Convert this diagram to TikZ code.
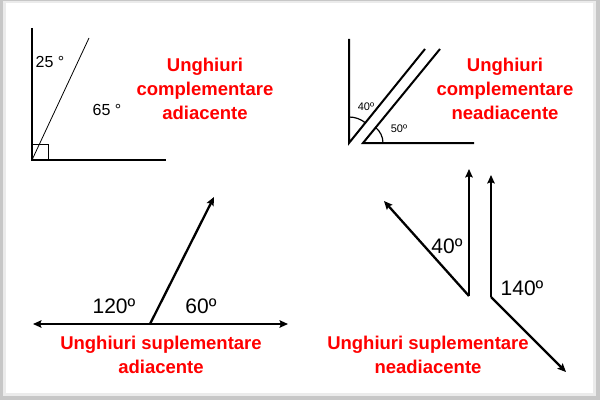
\documentclass[tikz,border=0pt]{standalone}
\usepackage{fontspec}
\setmainfont{Liberation Sans}
\usetikzlibrary{arrows.meta}
\tikzset{>={Stealth[length=8.5pt,width=7.5pt,inset=1.5pt]}}
\tikzset{
  titlu/.style={text=red, font=\bfseries\fontsize{18.5}{24}\selectfont, align=center, inner sep=0pt},
  eticheta/.style={font=\fontsize{21}{24}\selectfont, inner sep=0pt},
  latura/.style={line width=1.2pt},
  vector/.style={line width=2.3pt, ->},
}

\begin{document}
\begin{tikzpicture}[x=1pt,y=1pt]
        \useasboundingbox (0,0) rectangle (600,400);
        \fill[black!22] (0,0) rectangle (600,400);
        \fill[black!8] (3,4) rectangle (596,399);
        \fill[white] (6,7) rectangle (593,397);
        % unghiuri complementare adiacente
        \begin{scope}
          \coordinate (o1) at (32,240);
          \coordinate (sus1) at (32,372);
          \coordinate (dr1) at (166,240);
          \coordinate (obl1) at (89,362);
          \draw[latura] (sus1) -- (o1) -- (dr1);
          \draw[line width=0.8pt] (o1) -- (obl1);
          \draw[line width=0.8pt] (o1) rectangle +(16,16);
          \node[font=\fontsize{16}{18}\selectfont] (u25) at (50,338) {25 °};
          \node[font=\fontsize{16}{18}\selectfont] (u65) at (107,290) {65 °};
          \node[titlu] (t1) at (205,311) {Unghiuri\\complementare\\adiacente};
        \end{scope}
        % unghiuri complementare neadiacente
        \begin{scope}
          \coordinate (o2) at (349,257);
          \coordinate (sus2) at (349,361);
          \coordinate (obl2) at (425,351);
          \coordinate (o3) at (363,257);
          \coordinate (obl3) at (440,351);
          \coordinate (dr3) at (474,257);
          \draw[line width=2pt] (sus2) -- (o2) -- (obl2);
          \draw[line width=2pt] (obl3) -- (o3) -- (dr3);
          \draw[line width=1.2pt] (o2) ++(90:26) arc[start angle=90, end angle=51, radius=26];
          \draw[line width=1.2pt] (o3) ++(0:20) arc[start angle=0, end angle=51, radius=20];
          \node[font=\fontsize{11}{12}\selectfont] (u40) at (366,293) {40º};
          \node[font=\fontsize{11}{12}\selectfont] (u50) at (399,271) {50º};
          \node[titlu] (t2) at (505,311) {Unghiuri\\complementare\\neadiacente};
        \end{scope}
        % unghiuri suplementare adiacente
        \begin{scope}
          \coordinate (st4) at (33,76);
          \coordinate (dr4) at (288,76);
          \coordinate (o4) at (150,76);
          \coordinate (obl4) at (214,203);
          \draw[vector, <->] (st4) -- (dr4);
          \draw[vector] (o4) -- (obl4);
          \node[eticheta] (u120) at (114,94) {120º};
          \node[eticheta] (u60) at (201,94) {60º};
          \node[titlu] (t3) at (161,45) {Unghiuri suplementare\\adiacente};
        \end{scope}
        % unghiuri suplementare neadiacente
        \begin{scope}
          \coordinate (o5) at (469,104);
          \coordinate (sus5) at (469,231);
          \coordinate (obl5) at (384,199);
          \coordinate (o6) at (491,103);
          \coordinate (sus6) at (491,225);
          \coordinate (jos6) at (566,28);
          \draw[vector] (o5) -- (sus5);
          \draw[vector] (o5) -- (obl5);
          \draw[vector] (o6) -- (sus6);
          \draw[vector] (o6) -- (jos6);
          \node[eticheta] (u40b) at (447,154) {40º};
          \node[eticheta] (u140) at (522,112) {140º};
          \node[titlu] (t4) at (428,45) {Unghiuri suplementare\\neadiacente};
        \end{scope}
      \end{tikzpicture}
\end{document}
